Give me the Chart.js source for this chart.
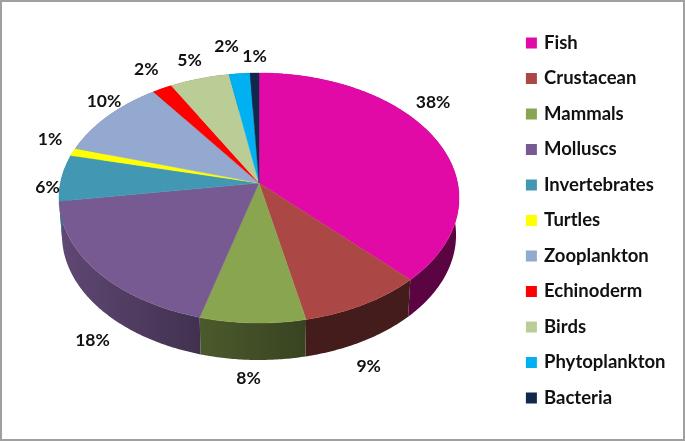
<!DOCTYPE html>
<html>
<head>
<meta charset="utf-8">
<script src="https://cdn.jsdelivr.net/npm/chart.js@4"></script>
<style>
  html, body { margin: 0; padding: 0; background: #fff; }
  #marco { position: relative; width: 685px; height: 441px; overflow: hidden; }
  #marco canvas { position: absolute; left: 0; top: 0; }
  #borde { position: absolute; left: 0; top: 0; width: 685px; height: 441px; box-sizing: border-box; border: 2px solid #a0a0a0; }
</style>
</head>
<body>
<div id="marco">
  <canvas id="grafica" width="685" height="441"></canvas>
  <div id="borde"></div>
</div>
<script>
const categorias = ['Fish', 'Crustacean', 'Mammals', 'Molluscs', 'Invertebrates', 'Turtles', 'Zooplankton', 'Echinoderm', 'Birds', 'Phytoplankton', 'Bacteria'];
const valores = [37.7, 8.9, 7.6, 18.4, 6.0, 1.0, 10.4, 1.8, 5.4, 1.9, 0.8];
const colores = ['#e20aa6', '#ab4744', '#8aa550', '#775a91', '#4298b2', '#ffff00', '#93a9cf', '#ff0000', '#bbcd97', '#00b0f0', '#12284b'];
// desplazamiento de cada etiqueta respecto al punto medio del borde de su sector
const etiquetaDx = [-2, 5, -4, -5, -14, -23, -4, -16, -10, -13, 0];
const etiquetaDy = [-36, 62, 55, 69, 10, -13, -15, -19, -18, -27, -17];

// pastel visto en perspectiva: el vertice no cae en el centro de la elipse
const centroX = 259, centroY = 198, radioX = 198.6, radioY = 125;
const vertice = -15, fuga = -0.12, grosor = 37, estrechez = 0.985;
const fuente = 'bold 17.5px Lato';

function proyectar(angulo, radio = 1) {
  let u = Math.cos(angulo) * radio;
  let v = Math.sin(angulo) * radio;
  let d = 1 + fuga * v;
  return { x: centroX + radioX * u / d, y: centroY + (radioY * v + vertice) / d };
}

function puntosBorde(arco) {
  let n = Math.max(2, Math.ceil((arco.endAngle - arco.startAngle) / 0.01));
  let puntos = [];
  for (let i = 0; i <= n; i++) {
    puntos.push(proyectar(arco.startAngle + (arco.endAngle - arco.startAngle) * i / n));
  }
  return puntos;
}

function oscurecer(color, f) {
  let r = parseInt(color.slice(1, 3), 16) * f;
  let g = parseInt(color.slice(3, 5), 16) * f;
  let b = parseInt(color.slice(5, 7), 16) * f;
  return `rgb(${r | 0}, ${g | 0}, ${b | 0})`;
}

const pastel3d = {
  id: 'pastel3d',
  beforeDatasetDraw(chart) {
    let ctx = chart.ctx;
    let arcos = chart.getDatasetMeta(0).data;

    // cara lateral
    arcos.forEach((arco, i) => {
      let puntos = puntosBorde(arco);
      let grad = ctx.createLinearGradient(60, 0, 460, 0);
      grad.addColorStop(0, oscurecer(colores[i], 0.8));
      grad.addColorStop(0.35, oscurecer(colores[i], 0.55));
      grad.addColorStop(0.63, oscurecer(colores[i], 0.4));
      grad.addColorStop(1, oscurecer(colores[i], 0.4));
      ctx.beginPath();
      puntos.forEach((p, k) => {
        if (k === 0) ctx.moveTo(p.x, p.y); else ctx.lineTo(p.x, p.y);
      });
      puntos.slice().reverse().forEach(p => {
        ctx.lineTo(centroX + (p.x - centroX) * estrechez, p.y + grosor);
      });
      ctx.closePath();
      ctx.fillStyle = grad;
      ctx.fill();
    });

    // cara superior
    let apice = proyectar(0, 0);
    arcos.forEach((arco, i) => {
      ctx.beginPath();
      ctx.moveTo(apice.x, apice.y);
      puntosBorde(arco).forEach(p => ctx.lineTo(p.x, p.y));
      ctx.closePath();
      ctx.fillStyle = colores[i];
      ctx.strokeStyle = colores[i];
      ctx.lineWidth = 0.4;
      ctx.fill();
      ctx.stroke();
    });

    // porcentajes
    let total = valores.reduce((a, b) => a + b, 0);
    ctx.font = fuente;
    ctx.fillStyle = '#111';
    ctx.textAlign = 'center';
    ctx.textBaseline = 'middle';
    arcos.forEach((arco, i) => {
      let p = proyectar((arco.startAngle + arco.endAngle) / 2);
      ctx.fillText(Math.round(valores[i] / total * 100) + '%', p.x + etiquetaDx[i], p.y + etiquetaDy[i]);
    });
    return false;
  }
};

new Chart(document.getElementById('grafica').getContext('2d'), {
  type: 'pie',
  data: {
    labels: categorias,
    datasets: [{
      data: valores,
      backgroundColor: colores,
      borderColor: colores,
      borderWidth: 4.25
    }]
  },
  options: {
    responsive: false,
    animation: false,
    layout: { padding: { right: 9.5 } },
    plugins: {
      tooltip: { enabled: false },
      legend: {
        position: 'right',
        labels: {
          font: { family: 'Lato', size: 18.5, weight: 'bold' },
          color: '#111',
          boxWidth: 6.75,
          boxHeight: 6.75,
          padding: 17
        }
      }
    }
  },
  plugins: [pastel3d]
});
</script>
</body>
</html>
